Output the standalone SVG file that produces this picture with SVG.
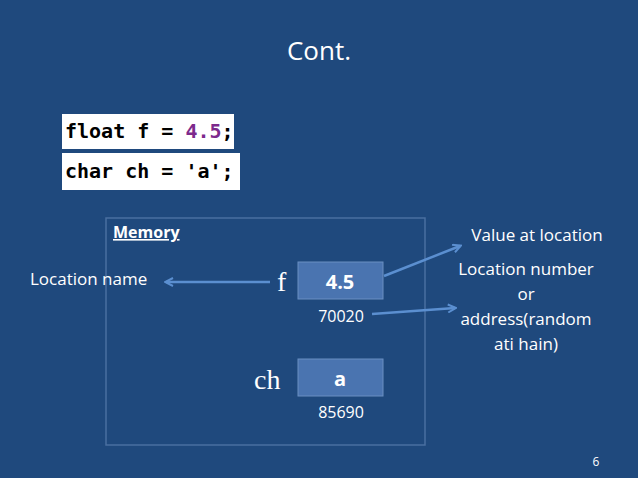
<svg xmlns="http://www.w3.org/2000/svg" width="638" height="478" viewBox="0 0 638 478">
<defs>
<marker id="ah" markerWidth="10" markerHeight="10" refX="8" refY="5" orient="auto" markerUnits="userSpaceOnUse"><path d="M1,1 L9,5 L1,9" fill="none" stroke="#5b8fd0" stroke-width="2"/></marker>
<style>
.t{font-family:"Open Sans","Liberation Sans",sans-serif;fill:#fff}
.c{font-family:"DejaVu Sans Mono","Liberation Mono",monospace;font-size:20px;font-weight:bold;fill:#000}
.s{font-family:"Liberation Serif",serif;fill:#fff;font-size:28px}
.box{fill:#4a74b0;stroke:#6a8fc2;stroke-width:1}
.ln{stroke:#5b8fd0;stroke-width:2.5;fill:none;marker-end:url(#ah)}
</style>
</defs>
<rect width="638" height="478" fill="#1f497d"/>
<text class="t" x="319" y="60" font-size="26" text-anchor="middle">Cont.</text>
<g id="code1"><rect x="62" y="114" width="172" height="35" fill="#fff"/><text class="c" x="65" y="138">float f = <tspan fill="#7d2a8c">4.5</tspan>;</text></g>
<g id="code2"><rect x="62" y="153" width="178" height="37" fill="#fff"/><text class="c" x="65" y="178">char ch = 'a';</text></g>
<g id="memory"><rect x="106" y="218" width="319" height="227" fill="none" stroke="#4a6fa0" stroke-width="1.5"/><text class="t" x="113" y="238" font-size="16" font-weight="bold" text-decoration="underline">Memory</text></g>
<g id="f"><text class="s" x="277" y="291">f</text><rect class="box" x="298" y="262" width="85" height="37"/><text class="t" x="340" y="289" font-size="20" font-weight="bold" text-anchor="middle">4.5</text><text class="t" x="341" y="322" font-size="16" text-anchor="middle">70020</text></g>
<g id="ch"><text class="s" x="254" y="389">ch</text><rect class="box" x="298" y="359" width="85" height="37"/><text class="t" x="340" y="386" font-size="20" font-weight="bold" text-anchor="middle">a</text><text class="t" x="341" y="418" font-size="16" text-anchor="middle">85690</text></g>
<g id="labels">
<text class="t" x="30" y="285" font-size="17">Location name</text>
<text class="t" x="537" y="241" font-size="17" text-anchor="middle">Value at location</text>
<text class="t" x="526" y="275" font-size="17" text-anchor="middle">Location number</text>
<text class="t" x="526" y="300" font-size="17" text-anchor="middle">or</text>
<text class="t" x="526" y="325" font-size="17" text-anchor="middle">address(random</text>
<text class="t" x="526" y="350" font-size="17" text-anchor="middle">ati hain)</text>
<text class="t" x="596" y="466" font-size="12" text-anchor="middle">6</text>
</g>
<g id="connectors">
<line class="ln" x1="270" y1="282" x2="166" y2="282"/>
<line class="ln" x1="384" y1="276" x2="460" y2="246"/>
<line class="ln" x1="372" y1="314" x2="455" y2="308"/>
</g>
</svg>
